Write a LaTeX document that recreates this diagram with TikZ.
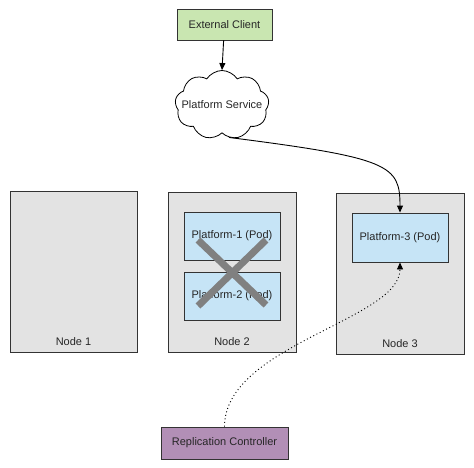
\documentclass[tikz,border=0pt]{standalone}
\usepackage{fontspec}
\setmainfont{Liberation Sans}
\usetikzlibrary{shapes.symbols,arrows.meta}
\definecolor{clientgreen}{HTML}{C9E6B1}
\definecolor{podblue}{HTML}{C6E4F6}
\definecolor{nodegray}{HTML}{E3E3E3}
\definecolor{rcpurple}{HTML}{B28FB6}
\definecolor{edge}{HTML}{333333}
\tikzset{
  box/.style={draw=edge, line width=0.9pt, rectangle, inner sep=0pt, font=\fontsize{11}{13}\selectfont, text=black!85},
  worker/.style={box, fill=nodegray},
  pod/.style={box, fill=podblue, minimum width=96pt, minimum height=48pt},
  lab/.style={font=\fontsize{11}{13}\selectfont, text=black!85, inner sep=0pt},
  tip/.style={-{Triangle[length=7pt,width=6pt]}},
}
\begin{document}
\begin{tikzpicture}[x=1pt,y=-1pt]
\useasboundingbox[fill=white] (0,0) rectangle (474,468);
\node[box, fill=clientgreen, minimum width=95pt, minimum height=31pt] (ext) at (224.5,24.5) {External Client};
\node[draw=black, line width=0.8pt, fill=white, cloud, cloud puffs=9, cloud puff arc=115, aspect=1.4, minimum width=94pt, minimum height=69pt, inner sep=0pt, font=\fontsize{11}{13}\selectfont] (svc) at (222,105) {\phantom{x}};
\node[lab] (svcl) at (222,105) {Platform Service};
\node[worker, minimum width=127pt, minimum height=161pt] (n1) at (73.5,271.5) {};
\node[worker, minimum width=128pt, minimum height=160pt] (n2) at (232,272) {};
\node[worker, minimum width=128pt, minimum height=161pt] (n3) at (400,273.5) {};
\node[lab] (n1l) at (73.5,342) {Node 1};
\node[lab] (n2l) at (232,342) {Node 2};
\node[lab] (n3l) at (400,344) {Node 3};
\node[pod] (p1) at (232,236) {Platform-1 (Pod)};
\node[pod] (p2) at (232,296) {Platform-2 (Pod)};
\node[pod, minimum height=49pt] (p3) at (400,237.5) {Platform-3 (Pod)};
\coordinate (xa) at (198,240);
\coordinate (xb) at (266,305);
\coordinate (xc) at (266,240);
\coordinate (xd) at (198,306);
\draw[line width=7pt, color=black!50] (xa) -- (xb) (xc) -- (xd);
\node[box, fill=rcpurple, minimum width=127pt, minimum height=32pt] (rc) at (224.5,443) {Replication Controller};
\draw[tip, line width=0.9pt] (ext) -- (svc.north);
\draw[tip, line width=0.9pt] (svc.-78) .. controls (390,158) and (400,165) .. (p3.north);
\draw[tip, line width=0.9pt, dash pattern=on 1pt off 2.6pt] (rc.north) .. controls (225,345) and (400,320) .. (p3.south);
\end{tikzpicture}
\end{document}
